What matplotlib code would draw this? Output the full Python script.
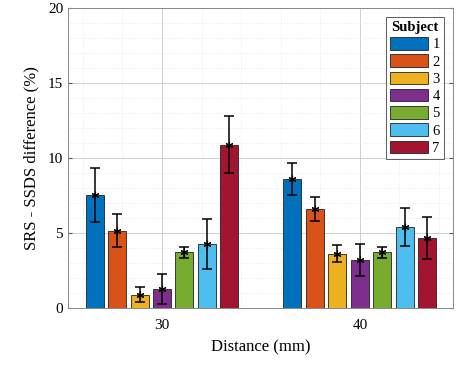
import numpy as np
import matplotlib.pyplot as plt
from matplotlib.ticker import MultipleLocator, FixedLocator

plt.rcParams['font.family'] = ['Liberation Serif', 'DejaVu Serif']

# 数据
distances = ['30', '40']
subjects = ['1', '2', '3', '4', '5', '6', '7']
mean_30 = [7.55, 5.15, 0.87, 1.3, 3.72, 4.26, 10.9]
err_30 = [1.8, 1.1, 0.5, 1.0, 0.38, 1.65, 1.9]
mean_40 = [8.6, 6.62, 3.62, 3.2, 3.72, 5.38, 4.7]
err_40 = [1.08, 0.8, 0.58, 1.08, 0.38, 1.26, 1.4]

colors = ['#0072BD', '#D95319', '#EDB120', '#7E2F8E', '#77AC30', '#4DBEEE', '#A2142F']

fig = plt.figure(figsize=(4.74, 3.81), dpi=100)
ax = fig.add_axes([0.1435, 0.1916, 0.812, 0.787])

x = np.arange(1, len(distances) + 1)
means = np.array([mean_30, mean_40])
errs = np.array([err_30, err_40])
step = 0.1136
width = 0.091

for i, subj in enumerate(subjects):
    xi = x + (i - 3) * step
    ax.bar(xi, means[:, i], width, color=colors[i], edgecolor='#222222',
           linewidth=0.6, label=subj, zorder=3)
    ax.errorbar(xi, means[:, i], yerr=errs[:, i], fmt='none', ecolor='black',
                elinewidth=1.1, capsize=3.6, capthick=1.1, zorder=4)
    ax.plot(xi, means[:, i], linestyle='none', marker=(6, 2, 0), markersize=5.5,
            color='black', markeredgewidth=0.8, zorder=5)

ax.set_xlim(0.525, 2.47)
ax.set_ylim(0, 20)
ax.set_xticks(x)
ax.set_xticklabels(distances)
ax.set_yticks([0, 5, 10, 15, 20])
ax.xaxis.set_minor_locator(FixedLocator(np.arange(0.6, 2.47, 0.2)))
ax.yaxis.set_minor_locator(MultipleLocator(1))

ax.grid(True, which='major', color='#d0d0d0', linewidth=0.7, zorder=0)
ax.grid(True, which='minor', color='#e6e6e6', linewidth=0.6, linestyle=':', zorder=0)
ax.set_axisbelow(True)

ax.tick_params(axis='both', which='major', labelsize=11, direction='in',
               length=3, color='#555555', right=True, top=False)
ax.tick_params(axis='x', which='major', length=0, pad=8)
ax.tick_params(which='minor', length=0)
for sp in ax.spines.values():
    sp.set_color('#888888')
    sp.set_linewidth(0.7)

ax.set_xlabel('Distance (mm)', fontsize=12, labelpad=5)
ax.set_ylabel('SRS - SSDS difference (%)', fontsize=12, labelpad=6)

leg = ax.legend(title='Subject', loc='upper right', fontsize=10.5,
                title_fontproperties={'weight': 'bold', 'size': 10.5},
                frameon=True, fancybox=False, edgecolor='#333333',
                handlelength=2.6, handleheight=0.95, handletextpad=0.3,
                labelspacing=0.2, borderpad=0.3, borderaxespad=0.6)
leg.get_frame().set_linewidth(0.7)

fig.savefig('out.png', dpi=100)
